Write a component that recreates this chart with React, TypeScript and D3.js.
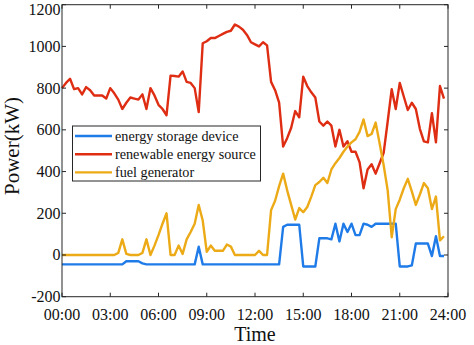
import React, { useEffect, useRef } from "react";
import * as d3 from "d3";

const xTickLabels = ["00:00", "03:00", "06:00", "09:00", "12:00", "15:00", "18:00", "21:00", "24:00"];
const yTicks = [-200, 0, 200, 400, 600, 800, 1000, 1200];
const seriesNames = ["energy storage device", "renewable energy source", "fuel generator"];
const seriesColors = ["#1f7be8", "#de2d12", "#ecaa17"];

// 15-minute samples from 00:00 to 23:45
const storage = [
  -45, -45, -45, -45, -45, -45, -45, -45, -45, -45, -45, -45, -45, -45, -45, -45,
  -30, -30, -30, -30, -40, -45, -45, -45, -45, -45, -45, -45, -45, -45, -45, -45,
  -45, -45, 40, -45, -45, -45, -45, -45, -45, -45, -45, -45, -45, -45, -45, -45,
  -45, -45, -45, -45, -45, -45, -45, 135, 145, 145, 145, 145, -55, -55, -55, -55,
  80, 80, 80, 75, 150, 65, 150, 110, 150, 95, 95, 150, 145, 135, 150, 150,
  150, 150, 150, 150, -55, -55, -55, -50, 55, 55, 55, 55, -5, 90, -5, -5,
];
const renewable = [
  800, 825, 845, 795, 800, 770, 805, 790, 765, 765, 765, 750, 800, 775, 745, 700,
  730, 755, 750, 745, 770, 700, 800, 765, 720, 700, 670, 860, 858, 855, 880, 830,
  825, 800, 685, 1015, 1025, 1040, 1040, 1050, 1060, 1070, 1075, 1105, 1095, 1080, 1055, 1020,
  1010, 1000, 1020, 1005, 830, 790, 730, 520, 560, 610, 690, 660, 855, 810, 780, 755,
  640, 620, 640, 620, 520, 600, 520, 545, 495, 495, 445, 320, 410, 435, 390, 440,
  490, 640, 795, 700, 825, 760, 695, 730, 700, 605, 545, 540, 680, 540, 810, 750,
];
const fuel = [
  0, 0, 0, 0, 0, 0, 0, 0, 0, 0, 0, 0, 0, 0, 10, 75,
  5, 0, 0, 0, 10, 75, 0, 45, 95, 150, 200, 0, 0, 45, 5, 75,
  110, 150, 240, 165, 15, 45, 20, 20, 20, 50, 40, 0, 0, 0, 0, 0,
  0, 20, 0, 0, 215, 260, 330, 390, 310, 240, 170, 225, 205, 230, 280, 335,
  350, 370, 345, 410, 440, 465, 495, 520, 540, 555, 590, 650, 570, 580, 635, 535,
  430, 310, 85, 220, 265, 320, 365, 305, 240, 290, 345, 320, 220, 280, 70, 90,
];

const W = 474;
const H = 345;
const M = { left: 62, right: 448, top: 4.7, bottom: 296.7 };
const FONT = "'Liberation Serif', 'Times New Roman', serif";

export default function App() {
  const ref = useRef<SVGSVGElement | null>(null);

  useEffect(() => {
    const svg = d3.select(ref.current);
    svg.selectAll("*").remove();

    const x = d3.scaleLinear().domain([0, 24]).range([M.left, M.right]);
    const y = d3.scaleLinear().domain([-200, 1200]).range([M.bottom, M.top]);
    const axisColor = "#262626";
    const tickLen = 4;

    const g = svg.append("g");

    const all = [storage, renewable, fuel];
    const line = d3
      .line<number>()
      .x((_, i) => x(i * 0.25))
      .y((d) => y(d));
    all.forEach((s, k) => {
      g.append("path")
        .datum(s)
        .attr("d", line)
        .attr("fill", "none")
        .attr("stroke", seriesColors[k])
        .attr("stroke-width", 2.4)
        .attr("stroke-linejoin", "round");
    });

    g.append("rect")
      .attr("x", M.left)
      .attr("y", M.top)
      .attr("width", M.right - M.left)
      .attr("height", M.bottom - M.top)
      .attr("fill", "none")
      .attr("stroke", axisColor)
      .attr("stroke-width", 1);

    xTickLabels.forEach((lab, i) => {
      const xv = x(i * 3);
      g.append("line").attr("x1", xv).attr("x2", xv).attr("y1", M.bottom).attr("y2", M.bottom - tickLen).attr("stroke", axisColor);
      g.append("line").attr("x1", xv).attr("x2", xv).attr("y1", M.top).attr("y2", M.top + tickLen).attr("stroke", axisColor);
      g.append("text")
        .attr("x", xv)
        .attr("y", 319.5)
        .attr("text-anchor", "middle")
        .attr("font-family", FONT)
        .attr("font-size", 16)
        .attr("fill", "#111")
        .text(lab);
    });

    yTicks.forEach((t) => {
      const yv = y(t);
      g.append("line").attr("x1", M.left).attr("x2", M.left + tickLen).attr("y1", yv).attr("y2", yv).attr("stroke", axisColor);
      g.append("line").attr("x1", M.right).attr("x2", M.right - tickLen).attr("y1", yv).attr("y2", yv).attr("stroke", axisColor);
      g.append("text")
        .attr("x", M.left - 1.5)
        .attr("y", t === 1200 ? 14.5 : yv + 5.5)
        .attr("text-anchor", "end")
        .attr("font-family", FONT)
        .attr("font-size", 16)
        .attr("fill", "#111")
        .text(String(t));
    });

    g.append("text")
      .attr("x", (M.left + M.right) / 2)
      .attr("y", 341)
      .attr("text-anchor", "middle")
      .attr("font-family", FONT)
      .attr("font-size", 20)
      .attr("fill", "#111")
      .text("Time");
    g.append("text")
      .attr("transform", "translate(18.5,146) rotate(-90)")
      .attr("text-anchor", "middle")
      .attr("font-family", FONT)
      .attr("font-size", 21)
      .attr("fill", "#111")
      .text("Power(kW)");

    const lg = g.append("g");
    lg.append("rect")
      .attr("x", 72.5)
      .attr("y", 126)
      .attr("width", 188)
      .attr("height", 55)
      .attr("fill", "white")
      .attr("stroke", axisColor)
      .attr("stroke-width", 1);
    seriesNames.forEach((name, k) => {
      const ly = 136 + k * 18.2;
      lg.append("line")
        .attr("x1", 75)
        .attr("x2", 112)
        .attr("y1", ly)
        .attr("y2", ly)
        .attr("stroke", seriesColors[k])
        .attr("stroke-width", 2.4);
      lg.append("text")
        .attr("x", 115)
        .attr("y", ly + 4.5)
        .attr("font-family", FONT)
        .attr("font-size", 14.2)
        .attr("fill", "#111")
        .text(name);
    });
  }, []);

  return (
    <div style={{ position: "absolute", left: 0, top: 0 }}>
      <svg ref={ref} width={W} height={H} style={{ display: "block", background: "white" }} />
    </div>
  );
}
